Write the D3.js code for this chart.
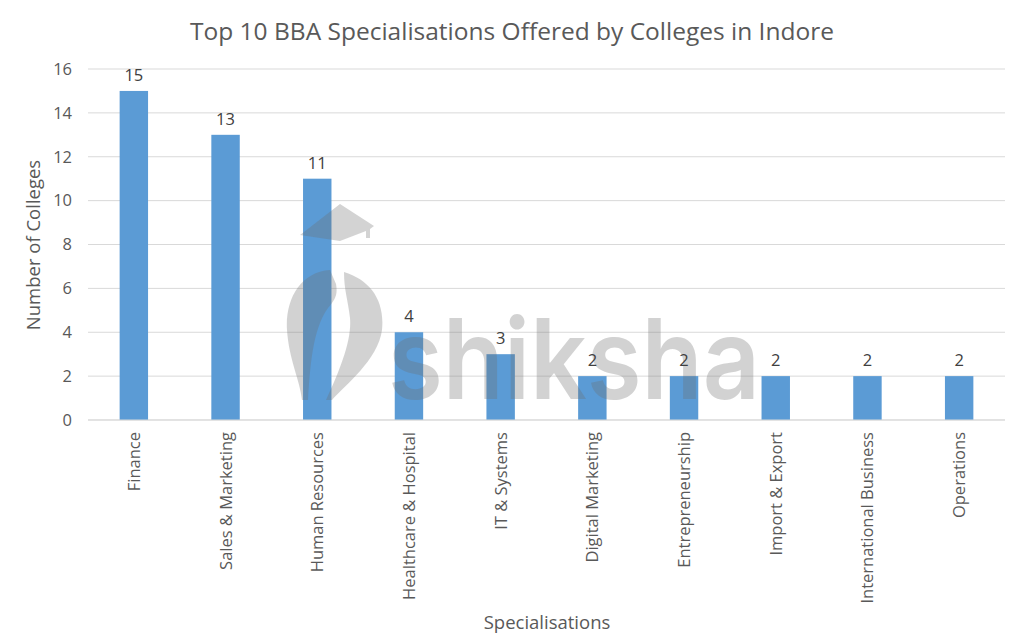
<!DOCTYPE html>
<html><head><meta charset="utf-8">
<script src="https://cdn.jsdelivr.net/npm/d3@7"></script>
<style>body{margin:0;background:#fff}svg{display:block}</style>
</head><body>
<script>
const categories = ["Finance","Sales & Marketing","Human Resources","Healthcare & Hospital","IT & Systems","Digital Marketing","Entrepreneurship","Import & Export","International Business","Operations"];
const values = [15,13,11,4,3,2,2,2,2,2];
const yTicks = [0,2,4,6,8,10,12,14,16];
const title = "Top 10 BBA Specialisations Offered by Colleges in Indore";
const xTitle = "Specialisations";
const yTitle = "Number of Colleges";

const W = 1024, H = 644;
const m = {left: 88, right: 1005, top: 69, bottom: 420};
const font = "'Open Sans', 'Noto Sans', sans-serif";
const txt = "#595959";

const svg = d3.select("body").append("svg").attr("width", W).attr("height", H);

const x = d3.scaleBand().domain(categories).range([m.left, m.right]).paddingInner(0.69).paddingOuter(0.345);
const y = d3.scaleLinear().domain([0,16]).range([m.bottom, m.top]);

// gridlines
svg.append("g").selectAll("line").data(yTicks).join("line")
  .attr("x1", m.left).attr("x2", m.right)
  .attr("y1", d => y(d)).attr("y2", d => y(d))
  .attr("stroke", "#d9d9d9").attr("stroke-width", 1);

// y axis labels
const yAxis = svg.append("g").attr("transform", `translate(${m.left-6},0)`)
  .call(d3.axisLeft(y).tickValues(yTicks).tickSize(0).tickPadding(10));
yAxis.select(".domain").remove();
yAxis.selectAll("text").attr("font-family", font).attr("font-size", 16.5).attr("fill", txt);

// bars
svg.append("g").selectAll("rect").data(values).join("rect")
  .attr("x", (d,i) => x(categories[i]))
  .attr("width", x.bandwidth())
  .attr("y", d => y(d))
  .attr("height", d => y(0) - y(d))
  .attr("fill", "#5b9bd5");

// watermark
const wm = svg.append("g").attr("opacity", 0.3).attr("fill", "#6e6e6e");
wm.append("path").attr("d",
  "M300,235 L340,204 L374,226 L370,229 L370,238 L366,238 L366,231 L340,241 Z");
wm.append("path").attr("d",
  "M330,270 C300,272 285,300 287,330 C289,360 300,380 302,400 L308,400 C310,370 312,330 328,308 C335,300 338,295 336,284 Z M344,272 C370,280 385,300 382,330 C378,360 345,385 332,400 L326,400 C340,370 352,340 350,318 C348,300 344,290 344,272 Z");
wm.append("text").attr("x", 388).attr("y", 399)
  .attr("font-family", "'Inter', 'Open Sans', sans-serif").attr("font-weight", 600)
  .attr("font-size", 112).attr("textLength", 372).attr("lengthAdjust", "spacingAndGlyphs")
  .text("shiksha");

// baseline axis
svg.append("line").attr("x1", m.left).attr("x2", m.right).attr("y1", y(0)).attr("y2", y(0))
  .attr("stroke", "#d9d9d9");

// value labels
svg.append("g").selectAll("text").data(values).join("text")
  .attr("x", (d,i) => x(categories[i]) + x.bandwidth()/2)
  .attr("y", d => y(d) - 10)
  .attr("text-anchor", "middle")
  .attr("font-family", font).attr("font-size", 16.5).attr("fill", "#404040")
  .text(d => d);

// category labels
svg.append("g").selectAll("text").data(categories).join("text")
  .attr("transform", d => `translate(${x(d) + x.bandwidth()/2 + 6},${y(0) + 12}) rotate(-90)`)
  .attr("text-anchor", "end")
  .attr("font-family", font).attr("font-size", 16.5).attr("fill", txt)
  .text(d => d);

// titles
svg.append("text").attr("x", 512).attr("y", 40).attr("text-anchor", "middle")
  .attr("font-family", font).attr("font-size", 24.5).attr("fill", txt).text(title);
svg.append("text").attr("x", 547).attr("y", 629).attr("text-anchor", "middle")
  .attr("font-family", font).attr("font-size", 18.5).attr("fill", txt).text(xTitle);
svg.append("text").attr("transform", "translate(40,245) rotate(-90)").attr("text-anchor", "middle")
  .attr("font-family", font).attr("font-size", 18.5).attr("fill", txt).text(yTitle);
</script>
</body></html>
